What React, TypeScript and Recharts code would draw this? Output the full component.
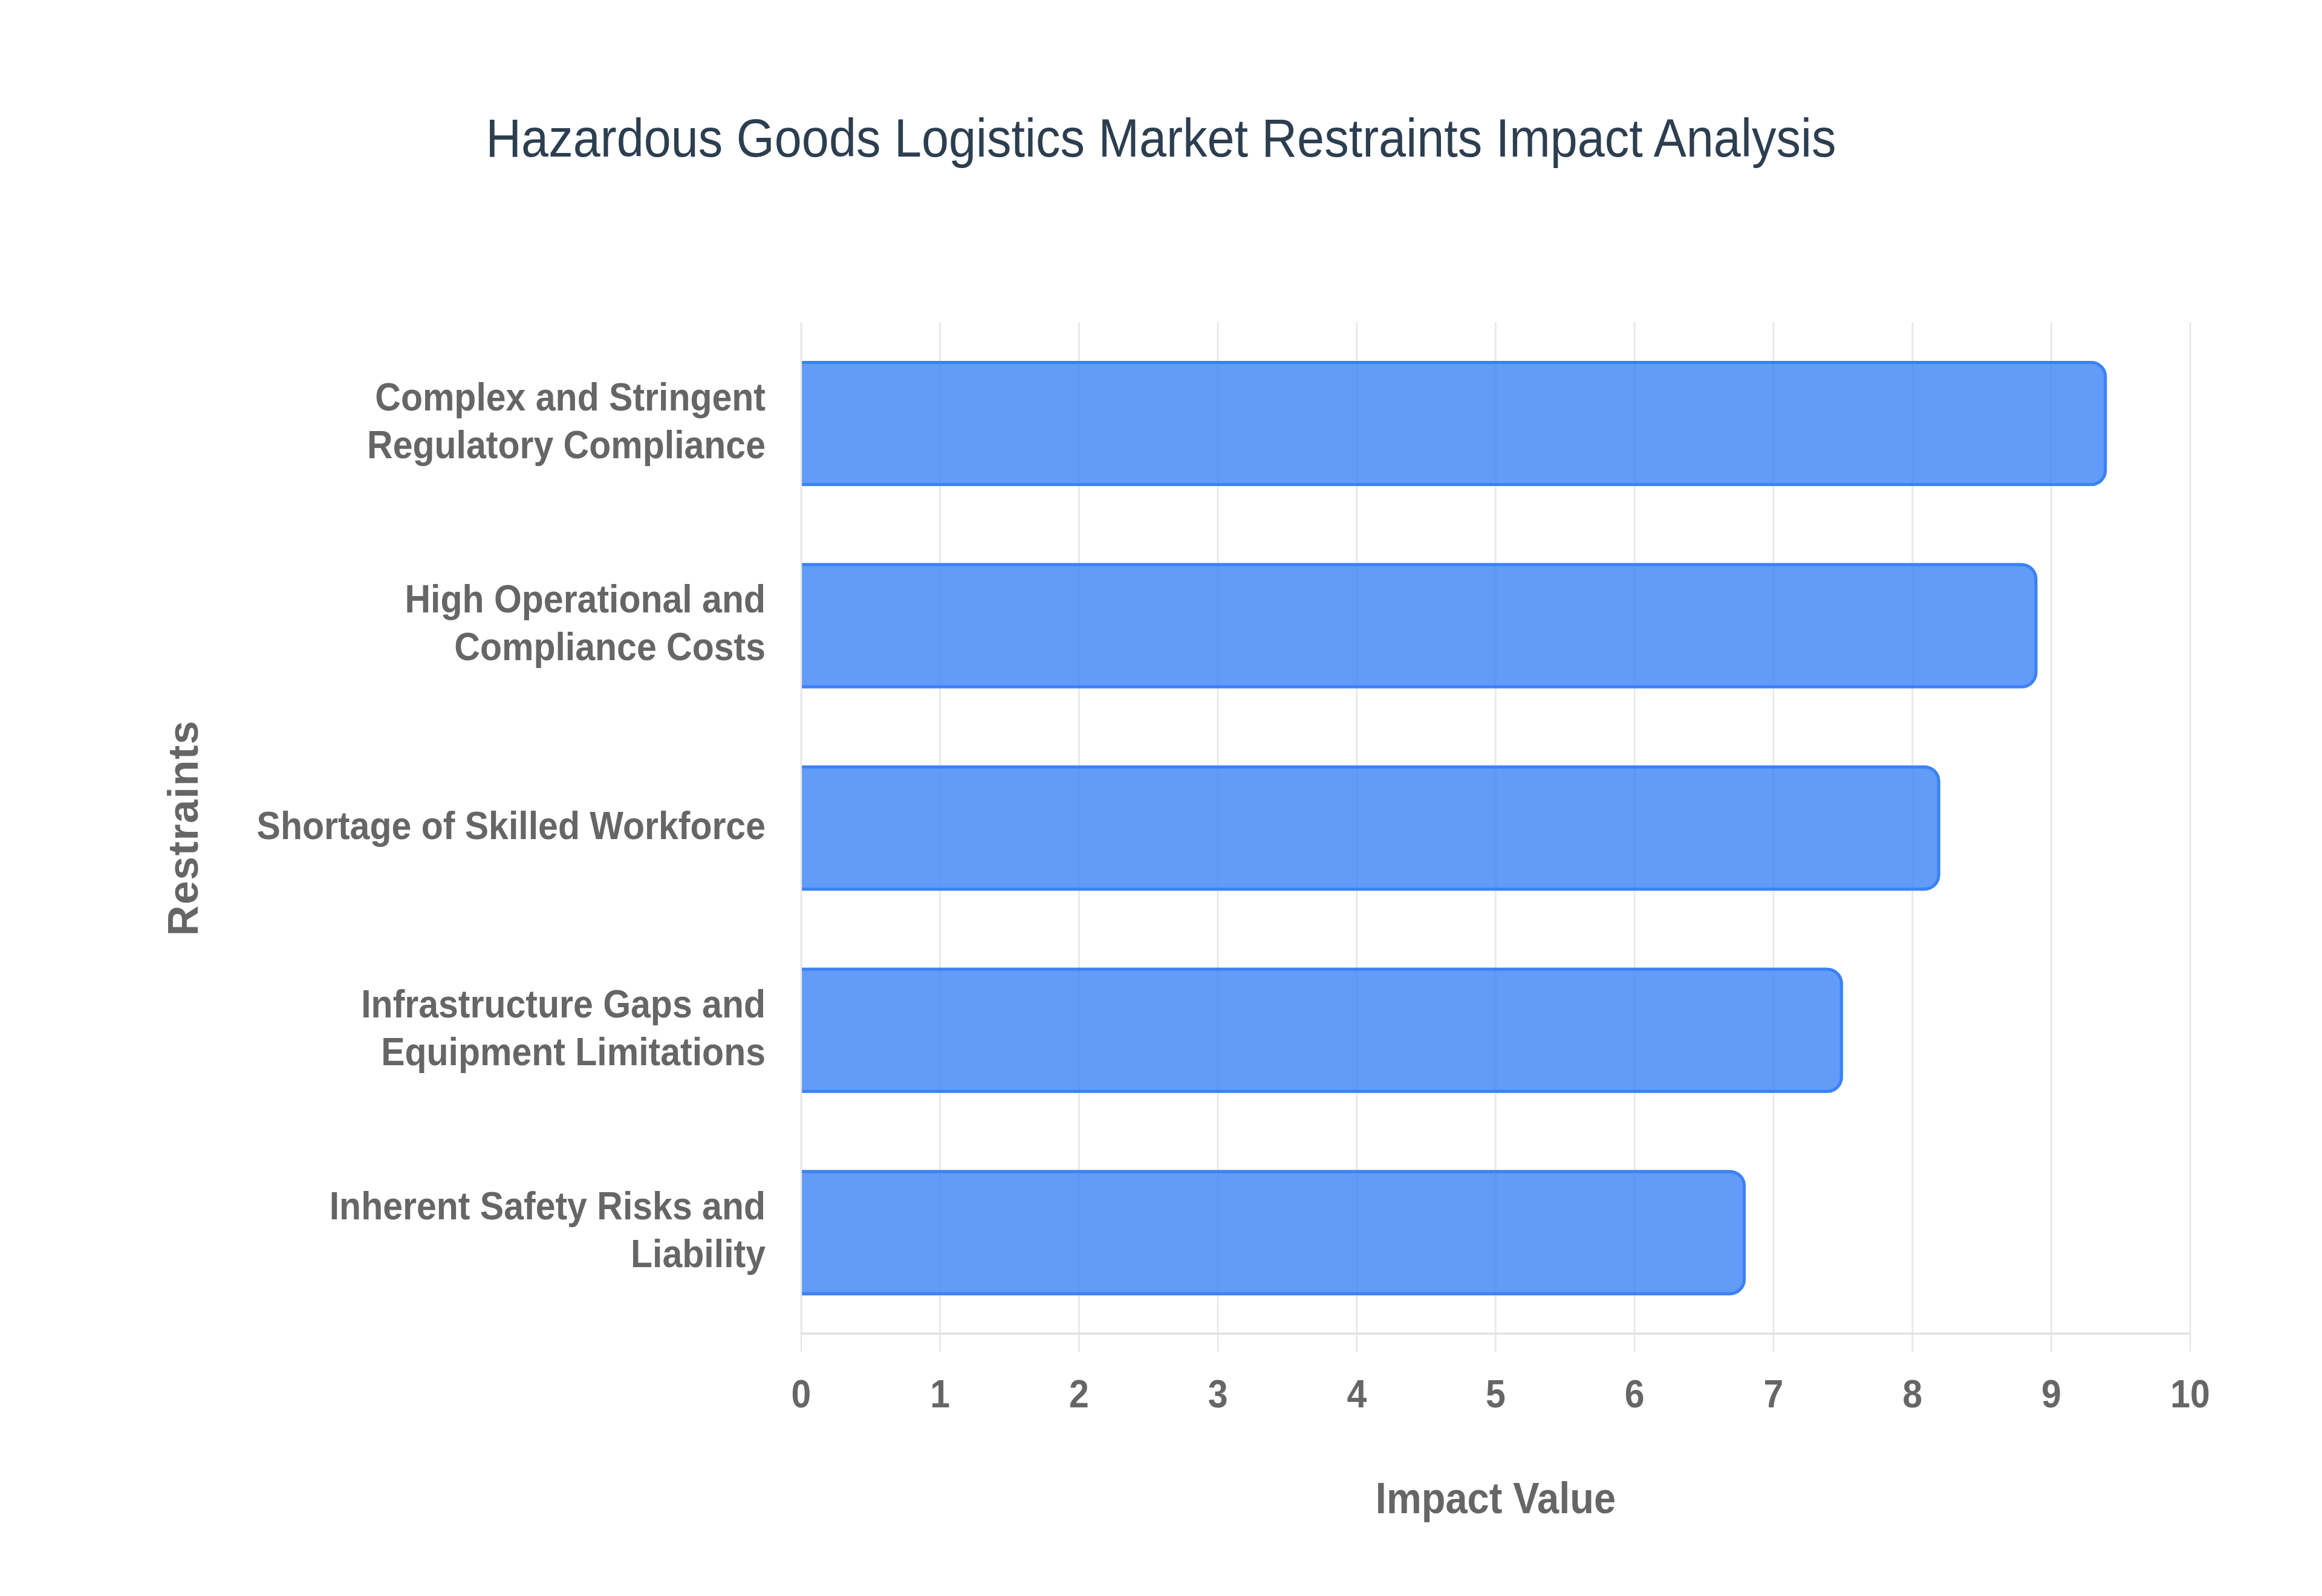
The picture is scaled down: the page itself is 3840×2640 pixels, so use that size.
import React from 'react';
import { BarChart, Bar, XAxis, YAxis, CartesianGrid, Label } from 'recharts';

// Restraints, top to bottom, with the line breaks used in the axis labels
const restraintLines: string[][] = [
  ['Complex and Stringent', 'Regulatory Compliance'],
  ['High Operational and', 'Compliance Costs'],
  ['Shortage of Skilled Workforce'],
  ['Infrastructure Gaps and', 'Equipment Limitations'],
  ['Inherent Safety Risks and', 'Liability'],
];
const restraints = restraintLines.map((lines) => lines.join(' '));
const impactValues = [9.4, 8.9, 8.2, 7.5, 6.8];
const impactTicks = [0, 1, 2, 3, 4, 5, 6, 7, 8, 9, 10];

const chartData = restraints.map((name, i) => ({ name, impact: impactValues[i] }));

const FONT = '"Liberation Sans", Arial, Helvetica, sans-serif';
const TICK_COLOR = '#666666';
const GRID_COLOR = '#e6e6e6';
const BAR_FILL = 'rgba(59, 130, 246, 0.8)';
const BAR_STROKE = '#3b82f6';
const STRETCH = 1.1;

const W = 3840;
const H = 2640;

function CategoryTick(props: any) {
  const { x, y, payload } = props;
  const idx = restraints.indexOf(payload.value);
  const lines = idx >= 0 ? restraintLines[idx] : [String(payload.value)];
  const lineGap = 79;
  const first = -((lines.length - 1) / 2) * lineGap;
  return (
    <g>
      {lines.map((line, i) => (
        <text
          key={i}
          transform={`translate(${x},${y + first + i * lineGap + 18}) scale(1,${STRETCH})`}
          textAnchor="end"
          fill={TICK_COLOR}
          fontFamily={FONT}
          fontWeight="bold"
          fontSize={59}
        >
          {line}
        </text>
      ))}
    </g>
  );
}

function ValueTick(props: any) {
  const { x, y, payload } = props;
  return (
    <text
      transform={`translate(${x},${y + 92}) scale(1,${STRETCH})`}
      textAnchor="middle"
      fill={TICK_COLOR}
      fontFamily={FONT}
      fontWeight="bold"
      fontSize={59}
    >
      {payload.value}
    </text>
  );
}

// Bar with rounded right end and no border on the baseline side
function ImpactBar(props: any) {
  const { x, y, width, height } = props;
  if (!width || width <= 0) return null;
  const r = Math.min(26, height / 2, width);
  const s = 5;
  const h = s / 2;
  const fillPath = `M${x},${y} H${x + width - r} A${r},${r} 0 0 1 ${x + width},${y + r} V${y + height - r} A${r},${r} 0 0 1 ${x + width - r},${y + height} H${x} Z`;
  const strokePath = `M${x},${y + h} H${x + width - r} A${r - h},${r - h} 0 0 1 ${x + width - h},${y + r} V${y + height - r} A${r - h},${r - h} 0 0 1 ${x + width - r},${y + height - h} H${x}`;
  return (
    <g>
      <path d={fillPath} fill={BAR_FILL} />
      <path d={strokePath} fill="none" stroke={BAR_STROKE} strokeWidth={s} />
    </g>
  );
}

export default function App() {
  return (
    <div style={{ position: 'absolute', left: 0, top: 0, width: W, height: H, background: '#fff' }}>
      <BarChart
        width={W}
        height={H}
        data={chartData}
        layout="vertical"
        margin={{ top: 533, right: 218, bottom: 0, left: 0 }}
      >
        <CartesianGrid horizontal={false} stroke={GRID_COLOR} strokeWidth={2.5} />
        <XAxis
          type="number"
          dataKey="impact"
          domain={[0, 10]}
          ticks={impactTicks}
          height={434}
          axisLine={{ stroke: '#dedede', strokeWidth: 3 }}
          tickLine={{ stroke: GRID_COLOR, strokeWidth: 2.5 }}
          tickSize={30}
          tickMargin={0}
          tick={<ValueTick />}
        >
          <Label
            content={(p: any) => {
              const vb = p.viewBox;
              return (
                <text
                  transform={`translate(${vb.x + vb.width / 2},${vb.y + 297}) scale(1,${STRETCH})`}
                  textAnchor="middle"
                  fill={TICK_COLOR}
                  fontFamily={FONT}
                  fontWeight="bold"
                  fontSize={65}
                >
                  Impact Value
                </text>
              );
            }}
          />
        </XAxis>
        <YAxis
          type="category"
          dataKey="name"
          width={1325}
          axisLine={{ stroke: GRID_COLOR, strokeWidth: 2.5 }}
          tickLine={false}
          tickSize={0}
          tickMargin={59}
          interval={0}
          tick={<CategoryTick />}
        >
          <Label
            content={(p: any) => {
              const vb = p.viewBox;
              return (
                <text
                  transform={`translate(327,${vb.y + vb.height / 2}) rotate(-90)`}
                  textAnchor="middle"
                  fill={TICK_COLOR}
                  fontFamily={FONT}
                  fontWeight="bold"
                  fontSize={70}
                  letterSpacing={1.5}
                >
                  Restraints
                </text>
              );
            }}
          />
        </YAxis>
        <Bar dataKey="impact" barSize={207} shape={<ImpactBar />} isAnimationActive={false} />
      </BarChart>
      <svg
        width={W}
        height={320}
        style={{ position: 'absolute', left: 0, top: 0, pointerEvents: 'none' }}
      >
        <text
          transform={`translate(${W / 2},259) scale(1,1.09)`}
          textAnchor="middle"
          fill="#2c3e50"
          fontFamily={FONT}
          fontSize={81}
        >
          Hazardous Goods Logistics Market Restraints Impact Analysis
        </text>
      </svg>
    </div>
  );
}
